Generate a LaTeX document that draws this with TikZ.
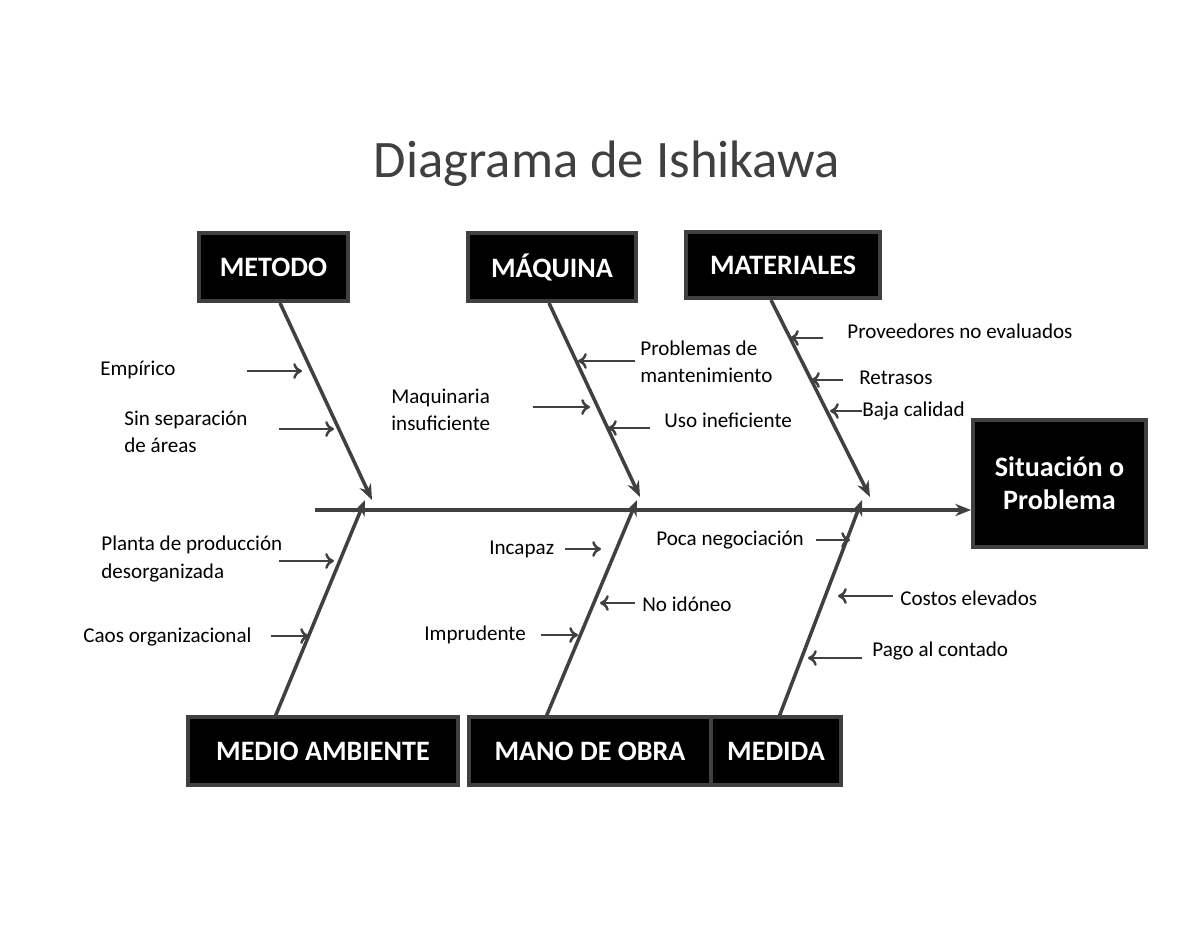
\documentclass[tikz,border=0pt]{standalone}
\usepackage{fontspec}
\setmainfont{Carlito}
\usetikzlibrary{arrows.meta}
\definecolor{dk}{HTML}{404040}
\begin{document}
\begin{tikzpicture}[x=0.02cm,y=-0.02cm,
 cat/.style={draw=dk,line width=2.2pt,fill=black,text=white,font=\fontsize{16}{19}\selectfont\bfseries,inner sep=0pt},
 bone/.style={draw=dk,line width=2pt,-{Stealth[length=9pt,width=7pt]}},
 sm/.style={draw=dk,line width=1.4pt,-{To[length=5pt,width=9pt]}},
 lbl/.style={font=\fontsize{12}{15.5}\selectfont,text=black,anchor=west,align=left,inner sep=0pt}]
\useasboundingbox (0,0) rectangle (1200,927);
\node[font=\fontsize{30}{34}\selectfont,text=dk] (title) at (607,164) {Diagrama de Ishikawa};
\node[cat] (met) at (273.5,267) {\parbox[c][68\dimexpr0.02cm\relax][c]{149\dimexpr0.02cm\relax}{\centering METODO}};
\node[cat] (maq) at (552,267) {\parbox[c][68\dimexpr0.02cm\relax][c]{168\dimexpr0.02cm\relax}{\centering MÁQUINA}};
\node[cat] (mat) at (783,265) {\parbox[c][66\dimexpr0.02cm\relax][c]{194\dimexpr0.02cm\relax}{\centering MATERIALES}};
\node[cat] (sit) at (1059.5,483.5) {\parbox[c][127\dimexpr0.02cm\relax][c]{173\dimexpr0.02cm\relax}{\centering Situación o\\ Problema}};
\node[cat] (med) at (323,751) {\parbox[c][68\dimexpr0.02cm\relax][c]{270\dimexpr0.02cm\relax}{\centering MEDIO AMBIENTE}};
\node[cat] (mano) at (590,751) {\parbox[c][68\dimexpr0.02cm\relax][c]{242\dimexpr0.02cm\relax}{\centering MANO DE OBRA}};
\node[cat] (medi) at (776,751) {\parbox[c][68\dimexpr0.02cm\relax][c]{130\dimexpr0.02cm\relax}{\centering MEDIDA}};
% spine
\coordinate (s0) at (315,510);
\draw[bone] (s0) -- (s0 -| sit.west);
% bones
\coordinate (a1) at (280,303); \coordinate (b1) at (372,500);
\coordinate (a2) at (549,303); \coordinate (b2) at (640,497);
\coordinate (a3) at (771,300); \coordinate (b3) at (870,497);
\coordinate (a4) at (275,717); \coordinate (b4) at (365,500);
\coordinate (a5) at (546,717); \coordinate (b5) at (637,500);
\coordinate (a6) at (779,717); \coordinate (b6) at (862,500);
\foreach \i in {1,...,6} \draw[bone] (a\i) -- (b\i);
% labels
\node[lbl] (t1) at (100,370) {Empírico};
\node[lbl] (t2) at (124,432) {Sin separación\\de áreas};
\node[lbl] (t3) at (391,410) {Maquinaria\\insuficiente};
\node[lbl] (t4) at (640,362) {Problemas de\\mantenimiento};
\node[lbl] (t5) at (664,420) {Uso ineficiente};
\node[lbl] (t6) at (847,331) {Proveedores no evaluados};
\node[lbl] (t7) at (859,378) {Retrasos};
\node[lbl] (t8) at (862,411) {Baja calidad};
\node[lbl] (t9) at (101,559) {Planta de producción\\desorganizada};
\node[lbl] (t10) at (83,637) {Caos organizacional};
\node[lbl] (t11) at (489,549) {Incapaz};
\node[lbl] (t12) at (424,635) {Imprudente};
\node[lbl] (t13) at (642,604) {No idóneo};
\node[lbl] (t14) at (656,540) {Poca negociación};
\node[lbl] (t15) at (900,598) {Costos elevados};
\node[lbl] (t16) at (872,651) {Pago al contado};
% small arrows
\foreach \x/\y/\u/\v in {247/371/302/371, 279/429/334/429, 533/407/590/407, 635/361/578/361, 650/428/608/428,
 823/338/790/338, 843/380/811/380, 862/411/830/411, 279/561/334/561, 271/636/309/636, 565/549/601/549,
 541/635/578/635, 635/603/600/603, 816/540/850/540, 893/596/838/596, 862/658/808/658}
 { \coordinate (p) at (\x,\y); \coordinate (q) at (\u,\v); \draw[sm] (p) -- (q); }
\end{tikzpicture}
\end{document}
